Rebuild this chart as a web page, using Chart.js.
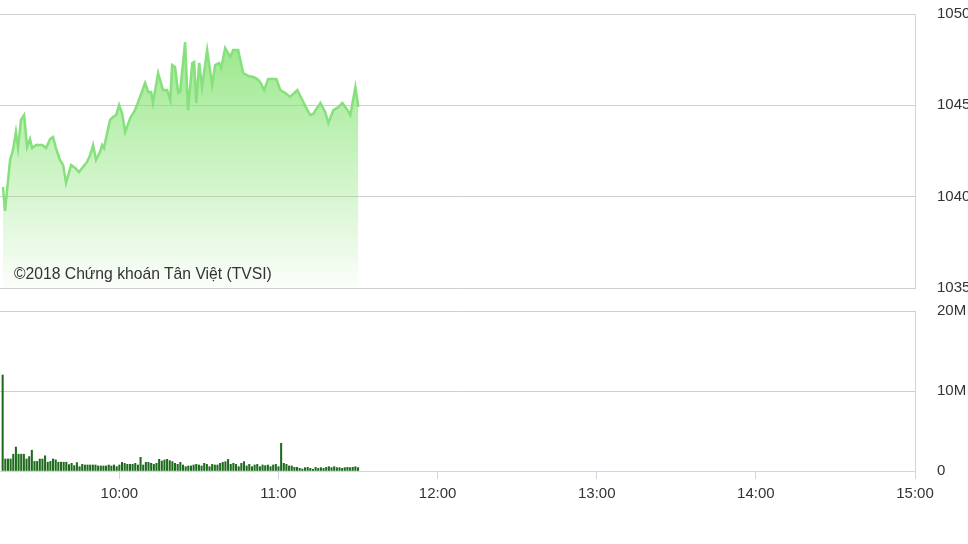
<!DOCTYPE html>
<html>
<head>
<meta charset="utf-8">
<title>VN-Index intraday</title>
<script src="https://cdn.jsdelivr.net/npm/chart.js@4.4.1/dist/chart.umd.min.js"></script>
<style>
  html, body { margin: 0; padding: 0; background: #fff; overflow: hidden; }
  #wrap { position: relative; width: 968px; height: 544px; overflow: hidden; }
  #priceChart { position: absolute; left: 0; top: 0; }
  #volChart { position: absolute; left: 0; top: 296px; }
  #credit {
    position: absolute; left: 14px; top: 265px;
    font: 15.7px "Liberation Sans", Arial, sans-serif; color: #333;
  }
</style>
</head>
<body>
<div id="wrap">
  <canvas id="priceChart" width="1000" height="300"></canvas>
  <canvas id="volChart" width="1000" height="215"></canvas>
  <div id="credit">©2018 Chứng khoán Tân Việt (TVSI)</div>
</div>
<script>
// time is minutes since midnight (555 = 9:15, 900 = 15:00)
const xMin = 555;
const xMax = 900;
const xTicks = [600, 660, 720, 780, 840, 900];

const priceTimes = [
  556.1, 556.9, 558.8, 559.9, 561.0, 561.8, 562.9, 564.1, 565.2, 566.3,
  567.1, 568.6, 570.9, 572.4, 573.9, 575.0, 576.1, 577.6, 578.8, 579.9,
  581.8, 583.3, 584.8, 586.3, 587.8, 589.0, 590.1, 591.2, 592.7, 593.5,
  594.2, 595.4, 596.5, 597.6, 598.8, 599.9, 601.0, 602.2, 604.1, 605.9,
  607.1, 609.7, 610.9, 612.0, 612.7, 614.6, 616.5, 618.0, 619.2, 619.9,
  621.0, 622.2, 622.9, 624.8, 625.9, 627.5, 628.2, 629.0, 630.1, 631.2,
  633.1, 635.0, 636.1, 637.6, 638.4, 639.9, 641.8, 642.9, 644.8, 646.7,
  648.6, 650.5, 652.0, 653.1, 654.6, 656.1, 657.6, 659.2, 660.7, 662.6,
  664.4, 667.1, 669.0, 670.9, 672.0, 673.1, 675.8, 677.6, 678.8, 680.7,
  682.6, 684.1, 686.0, 687.1, 689.0, 690.1
];
const prices = [
  1040.53, 1039.22, 1042.01, 1042.56, 1043.54, 1042.66, 1044.20, 1044.47, 1042.72, 1043.16,
  1042.66, 1042.83, 1042.83, 1042.66, 1043.16, 1043.27, 1042.66, 1042.01, 1041.73, 1040.75,
  1041.73, 1041.57, 1041.35, 1041.62, 1041.90, 1042.28, 1042.83, 1042.01, 1042.45, 1042.83,
  1042.66, 1043.49, 1044.20, 1044.36, 1044.47, 1045.02, 1044.58, 1043.54, 1044.31, 1044.74,
  1045.18, 1046.22, 1045.73, 1045.73, 1045.13, 1046.77, 1045.84, 1045.84, 1045.29, 1047.21,
  1047.10, 1045.68, 1045.73, 1048.47, 1044.74, 1047.32, 1047.37, 1045.13, 1047.32, 1046.00,
  1048.03, 1046.11, 1047.21, 1047.32, 1047.04, 1048.14, 1047.65, 1048.03, 1048.03, 1046.77,
  1046.61, 1046.55, 1046.44, 1046.28, 1045.84, 1046.44, 1046.44, 1046.44, 1045.84, 1045.68,
  1045.46, 1045.84, 1045.29, 1044.74, 1044.47, 1044.53, 1045.13, 1044.64, 1044.03, 1044.74,
  1044.91, 1045.13, 1044.74, 1044.47, 1046.00, 1044.91
];
const priceTicks = [1035, 1040, 1045, 1050];

// one bar per minute from 9:16, volume in millions of shares
const volStart = 556;
const volumes = [
  12.0, 1.5, 1.5, 1.5, 2.1, 3.0, 2.1, 2.1, 2.1, 1.5,
  1.8, 2.6, 1.2, 1.2, 1.5, 1.5, 1.9, 1.1, 1.2, 1.5,
  1.4, 1.1, 1.1, 1.1, 1.1, 0.8, 0.96, 0.67, 1.05, 0.54,
  0.83, 0.75, 0.75, 0.75, 0.75, 0.75, 0.63, 0.63, 0.63, 0.63,
  0.75, 0.63, 0.75, 0.54, 0.75, 1.08, 0.96, 0.83, 0.83, 0.83,
  0.96, 0.75, 1.71, 0.75, 1.08, 1.08, 0.96, 0.83, 0.96, 1.46,
  1.25, 1.38, 1.46, 1.29, 1.17, 0.96, 0.83, 1.08, 0.75, 0.54,
  0.63, 0.63, 0.75, 0.83, 0.75, 0.63, 0.96, 0.83, 0.54, 0.83,
  0.75, 0.75, 0.96, 1.08, 1.17, 1.46, 0.83, 0.96, 0.83, 0.54,
  0.96, 1.17, 0.63, 0.83, 0.54, 0.75, 0.83, 0.54, 0.75, 0.67,
  0.75, 0.54, 0.75, 0.83, 0.54, 3.46, 0.96, 0.83, 0.63, 0.63,
  0.46, 0.46, 0.33, 0.25, 0.42, 0.46, 0.33, 0.21, 0.46, 0.33,
  0.42, 0.33, 0.46, 0.54, 0.42, 0.54, 0.42, 0.42, 0.33, 0.42,
  0.46, 0.42, 0.46, 0.54, 0.42
];
const volTicks = [0, 10, 20];

Chart.defaults.font.family = '"Liberation Sans", Arial, sans-serif';
Chart.defaults.font.size = 15;
Chart.defaults.color = "#333";

const fmtTime = v => Math.floor(v / 60) + ":" + String(v % 60).padStart(2, "0");

// right axis: fixed width, and no extra top/bottom room for the labels
function fitRightAxis(s) {
  s.width = 85;
  s.paddingTop = 0;
  s.paddingBottom = 0;
}

function areaFill(context) {
  const { ctx, chartArea } = context.chart;
  if (!chartArea) return "rgba(130,225,110,0.5)";
  const g = ctx.createLinearGradient(0, chartArea.top, 0, chartArea.bottom);
  g.addColorStop(0, "rgba(125,225,105,0.85)");
  g.addColorStop(1, "rgba(125,225,105,0.03)");
  return g;
}

new Chart(document.getElementById("priceChart"), {
  type: "line",
  data: {
    datasets: [{
      data: priceTimes.map((t, i) => ({ x: t, y: prices[i] })),
      borderColor: "#86e07c",
      borderWidth: 2.5,
      pointRadius: 0,
      tension: 0,
      fill: "start",
      backgroundColor: areaFill
    }]
  },
  options: {
    responsive: false,
    animation: false,
    layout: { padding: { top: 14, bottom: 12, left: 0, right: 0 } },
    plugins: { legend: { display: false }, tooltip: { enabled: false } },
    scales: {
      x: { type: "linear", min: xMin, max: xMax, display: false },
      y: {
        position: "right",
        min: 1035,
        max: 1050,
        afterBuildTicks: s => { s.ticks = priceTicks.map(v => ({ value: v })); },
        afterFit: fitRightAxis,
        ticks: { padding: 22, color: "#333", callback: v => String(v) },
        grid: { color: "#cfcfcf", drawTicks: false },
        border: { display: true, color: "#ccd6eb" }
      }
    }
  }
});

new Chart(document.getElementById("volChart"), {
  type: "bar",
  data: {
    datasets: [{
      data: volumes.map((v, i) => ({ x: volStart + i, y: v })),
      backgroundColor: "#1d6b1d",
      barThickness: 1.4
    }]
  },
  options: {
    responsive: false,
    animation: false,
    layout: { padding: { top: 15, bottom: 0, left: 0, right: 0 } },
    plugins: { legend: { display: false }, tooltip: { enabled: false } },
    scales: {
      x: {
        type: "linear",
        min: xMin,
        max: xMax,
        offset: false,
        afterBuildTicks: s => { s.ticks = xTicks.map(v => ({ value: v })); },
        afterFit: s => { s.height = 40; },
        ticks: { padding: 6, maxRotation: 0, autoSkip: false, callback: v => fmtTime(v), color: "#333" },
        grid: { offset: false, drawOnChartArea: false, tickLength: 8, color: "#ccd6eb" },
        border: { display: true, color: "#ccd6eb" }
      },
      y: {
        position: "right",
        min: 0,
        max: 20,
        afterBuildTicks: s => { s.ticks = volTicks.map(v => ({ value: v })); },
        afterFit: fitRightAxis,
        ticks: { padding: 22, color: "#333", callback: v => v === 0 ? "0" : v + "M" },
        grid: { color: "#cfcfcf", drawTicks: false },
        border: { display: true, color: "#ccd6eb" }
      }
    }
  }
});
</script>
</body>
</html>
